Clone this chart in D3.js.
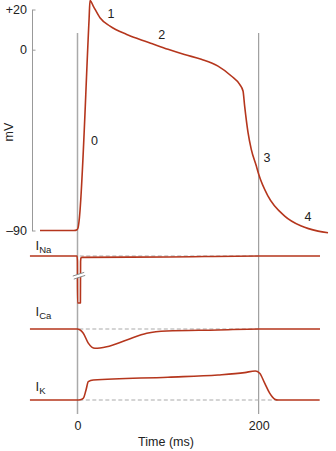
<!DOCTYPE html>
<html>
<head>
<meta charset="utf-8">
<script src="https://cdn.jsdelivr.net/npm/d3@7"></script>
<style>
    body { margin: 0; background: #fff; }
    svg { display: block; font-family: 'Liberation Sans', Arial, sans-serif; }
</style>
</head>
<body>
<div id="graph"></div>
<script>
'use strict';

let WIDTH = 336;
let HEIGHT = 451;
let RED = '#b5361d';
let GRAY = '#999';

// action potential, [time ms, mV]
let AP = [
    [-41.4, -90], [-4, -90], [-0.5, -89.6], [0.8, -88.3], [1.8, -85],
    [12.8, 15.4], [13.8, 24.5], [17.4, 21.7], [24.8, 15.9], [35.9, 11.7],
    [54.3, 7.6], [69, 5.1], [84, 2.7], [99.9, 0.2], [118, -2.4],
    [136.6, -4.8], [155.1, -8.2], [169.8, -13.1], [179, -17.3], [182.7, -20.6],
    [184.5, -28.1], [188.2, -41.2], [191.8, -49.6], [197.4, -57.9], [200, -62],
    [210.3, -72.9], [228.7, -82.8], [247, -87.8], [265.5, -90.3], [276.5, -91.1]
];

// currents, [time ms, relative amplitude]
let I_NA = [
    [-52.5, 0], [-0.6, 0], [-0.1, -0.1], [0.1, -1], [3.2, -1], [3.4, -0.12],
    [3.8, -0.04], [5, -0.03], [100, -0.02], [200, 0], [267.7, 0]
];
let I_CA = [
    [-52.5, 0], [0, 0], [2.5, -0.04], [6.4, -0.22], [11.9, -0.73], [19.3, -1],
    [32.2, -0.92], [54.3, -0.57], [76.4, -0.22], [98.5, -0.1], [155, -0.05],
    [200, 0], [267.7, 0]
];
let I_K = [
    [-52.5, 0], [0, 0], [3, 0.01], [6.4, 0.085], [9.4, 0.5], [11.9, 0.92],
    [17.4, 1], [99.9, 1.14], [155.1, 1.25], [184.5, 1.37], [196.2, 1.45],
    [201.1, 1.34], [206.6, 0.84], [212.1, 0.34], [217.7, 0.04], [221.3, 0],
    [267.3, 0]
];

// dashed zero lines [start, end] in ms
let NA_ZERO = [2.5, 200];
let CA_ZERO = [2, 200];
let K_ZERO = [2, 222];

let MV_TICKS = [20, 0, -90];
let TIME_TICKS = [0, 200];
let MARKER_TIMES = [0, 200];

// phase numbers, [label, time ms, mV]
let PHASES = [
    ['0', 18.6, -45.2],
    ['1', 37, 18.1],
    ['2', 92.9, 7.6],
    ['3', 209.2, -53.6],
    ['4', 254.4, -83]
];

function visualize () {
    let svg = d3.select('#graph')
        .append('svg')
        .attr('width', WIDTH)
        .attr('height', HEIGHT);

    let xScale = d3.scaleLinear().domain([0, 200]).range([77.5, 258.7]);
    let yMv = d3.scaleLinear().domain([-90, 20]).range([230.5, 9.5]);
    let yNa = d3.scaleLinear().domain([-1, 0]).range([303, 256]);
    let yCa = d3.scaleLinear().domain([-1, 0]).range([348.3, 329]);
    let yK = d3.scaleLinear().domain([0, 1]).range([400, 380]);

    drawMarkers(svg, xScale);
    drawAxes(svg, xScale, yMv);

    drawZero(svg, xScale, yNa, NA_ZERO);
    drawZero(svg, xScale, yCa, CA_ZERO);
    drawZero(svg, xScale, yK, K_ZERO);

    drawTrace(svg, AP, xScale, yMv);
    drawTrace(svg, I_NA, xScale, yNa);
    drawTrace(svg, I_CA, xScale, yCa);
    drawTrace(svg, I_K, xScale, yK);

    drawBreak(svg, xScale, yNa);

    svg.selectAll('.phase')
        .data(PHASES)
        .enter()
        .append('text')
        .attr('class', 'phase')
        .attr('x', d => xScale(d[1]))
        .attr('y', d => yMv(d[2]))
        .attr('dy', '0.36em')
        .attr('text-anchor', 'middle')
        .style('font-size', '12.5px')
        .attr('fill', '#222')
        .text(d => d[0]);

    currentLabel(svg, 'Na', yNa(0) - 6);
    currentLabel(svg, 'Ca', yCa(0) - 13);
    currentLabel(svg, 'K', yK(0) - 9);
};

function drawMarkers (svg, xScale) {
    svg.selectAll('.marker')
        .data(MARKER_TIMES)
        .enter()
        .append('line')
        .attr('class', 'marker')
        .attr('x1', d => xScale(d))
        .attr('x2', d => xScale(d))
        .attr('y1', 33)
        .attr('y2', 414)
        .attr('stroke', (d, i) => i == 0 ? '#aaa' : '#8c8c8c')
        .attr('stroke-width', (d, i) => i == 0 ? 1.5 : 1);
};

function drawAxes (svg, xScale, yMv) {
    let yAxis = d3.axisLeft(yMv)
        .tickValues(MV_TICKS)
        .tickSizeInner(-3.5)
        .tickSizeOuter(0)
        .tickPadding(5)
        .tickFormat(d => d > 0 ? '+' + d : d < 0 ? '\u2013' + Math.abs(d) : d);

    let gy = svg.append('g')
        .attr('transform', 'translate(32, 0)')
        .call(yAxis);
    gy.selectAll('path, line').attr('stroke', GRAY);
    gy.selectAll('text')
        .style('font-size', '12.5px')
        .attr('fill', '#222');

    svg.append('text')
        .attr('transform', 'translate(13, 132) rotate(-90)')
        .attr('text-anchor', 'middle')
        .style('font-size', '12.5px')
        .attr('fill', '#222')
        .text('mV');

    let xAxis = d3.axisBottom(xScale)
        .tickValues(TIME_TICKS)
        .tickSize(0)
        .tickPadding(6)
        .tickFormat(d => d);

    let gx = svg.append('g')
        .attr('transform', 'translate(0, 415)')
        .call(xAxis);
    gx.select('.domain').remove();
    gx.selectAll('text')
        .style('font-size', '12.5px')
        .attr('fill', '#222');

    svg.append('text')
        .attr('x', 166)
        .attr('y', 446)
        .attr('text-anchor', 'middle')
        .style('font-size', '12.5px')
        .attr('fill', '#222')
        .text('Time (ms)');
};

function drawZero (svg, xScale, yScale, span) {
    svg.append('line')
        .attr('x1', xScale(span[0]))
        .attr('x2', xScale(span[1]))
        .attr('y1', yScale(0))
        .attr('y2', yScale(0))
        .attr('stroke', '#aaa')
        .attr('stroke-width', 1.2)
        .attr('stroke-dasharray', '4,2.5');
};

function drawTrace (svg, data, xScale, yScale) {
    let line = d3.line()
        .x(d => xScale(d[0]))
        .y(d => yScale(d[1]))
        .curve(d3.curveMonotoneX);

    svg.append('path')
        .datum(data)
        .attr('d', line)
        .attr('fill', 'none')
        .attr('stroke', RED)
        .attr('stroke-width', 1.6)
        .attr('stroke-linejoin', 'round');
};

function drawBreak (svg, xScale, yNa) {
    let cx = xScale(1.65);
    let cy = yNa(-0.42);
    let g = svg.append('g')
        .attr('transform', 'translate(' + cx + ',' + cy + ') rotate(-18)');

    g.append('rect')
        .attr('x', -6)
        .attr('y', -1.6)
        .attr('width', 12)
        .attr('height', 3.2)
        .attr('fill', '#fff');

    g.selectAll('.brk')
        .data([-1.6, 1.6])
        .enter()
        .append('line')
        .attr('x1', -6)
        .attr('x2', 6)
        .attr('y1', d => d)
        .attr('y2', d => d)
        .attr('stroke', '#888')
        .attr('stroke-width', 0.9);
};

function currentLabel (svg, sub, y) {
    let t = svg.append('text')
        .attr('x', 35.5)
        .attr('y', y)
        .style('font-size', '13px')
        .attr('fill', '#222');
    t.append('tspan').text('I');
    t.append('tspan')
        .attr('dy', 3)
        .style('font-size', '9.5px')
        .text(sub);
};

visualize();
</script>
</body>
</html>
